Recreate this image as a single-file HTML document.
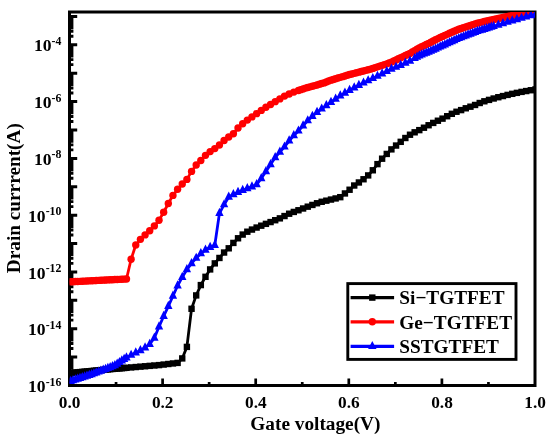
<!DOCTYPE html>
<html><head><meta charset="utf-8"><title>Transfer characteristics</title>
<style>html,body{margin:0;padding:0;background:#fff}svg{display:block}text{font-family:"Liberation Serif","Times New Roman",serif;font-weight:bold;fill:#000}</style></head><body>
<svg width="550" height="436" viewBox="0 0 550 436">
<rect width="550" height="436" fill="#fff"/>
<defs><clipPath id="plot"><rect x="69.5" y="12.0" width="465.5" height="373.5"/></clipPath></defs>
<path d="M69.5 385.5H77.2M69.5 357.11H77.2M69.5 328.72H77.2M69.5 300.33H77.2M69.5 271.94H77.2M69.5 243.55H77.2M69.5 215.16H77.2M69.5 186.77H77.2M69.5 158.38H77.2M69.5 129.99H77.2M69.5 101.6H77.2M69.5 73.21H77.2M69.5 44.82H77.2M69.5 16.43H77.2" stroke="#000" stroke-width="3" fill="none"/>
<path d="M69.5 376.95H73.4M69.5 371.95H73.4M69.5 368.41H73.4M69.5 365.66H73.4M69.5 363.41H73.4M69.5 361.51H73.4M69.5 359.86H73.4M69.5 358.41H73.4M69.5 348.56H73.4M69.5 343.56H73.4M69.5 340.02H73.4M69.5 337.27H73.4M69.5 335.02H73.4M69.5 333.12H73.4M69.5 331.47H73.4M69.5 330.02H73.4M69.5 320.17H73.4M69.5 315.17H73.4M69.5 311.63H73.4M69.5 308.88H73.4M69.5 306.63H73.4M69.5 304.73H73.4M69.5 303.08H73.4M69.5 301.63H73.4M69.5 291.78H73.4M69.5 286.78H73.4M69.5 283.24H73.4M69.5 280.49H73.4M69.5 278.24H73.4M69.5 276.34H73.4M69.5 274.69H73.4M69.5 273.24H73.4M69.5 263.39H73.4M69.5 258.39H73.4M69.5 254.85H73.4M69.5 252.1H73.4M69.5 249.85H73.4M69.5 247.95H73.4M69.5 246.3H73.4M69.5 244.85H73.4M69.5 235H73.4M69.5 230H73.4M69.5 226.46H73.4M69.5 223.71H73.4M69.5 221.46H73.4M69.5 219.56H73.4M69.5 217.91H73.4M69.5 216.46H73.4M69.5 206.61H73.4M69.5 201.61H73.4M69.5 198.07H73.4M69.5 195.32H73.4M69.5 193.07H73.4M69.5 191.17H73.4M69.5 189.52H73.4M69.5 188.07H73.4M69.5 178.22H73.4M69.5 173.22H73.4M69.5 169.68H73.4M69.5 166.93H73.4M69.5 164.68H73.4M69.5 162.78H73.4M69.5 161.13H73.4M69.5 159.68H73.4M69.5 149.83H73.4M69.5 144.83H73.4M69.5 141.29H73.4M69.5 138.54H73.4M69.5 136.29H73.4M69.5 134.39H73.4M69.5 132.74H73.4M69.5 131.29H73.4M69.5 121.44H73.4M69.5 116.44H73.4M69.5 112.9H73.4M69.5 110.15H73.4M69.5 107.9H73.4M69.5 106H73.4M69.5 104.35H73.4M69.5 102.9H73.4M69.5 93.05H73.4M69.5 88.05H73.4M69.5 84.51H73.4M69.5 81.76H73.4M69.5 79.51H73.4M69.5 77.61H73.4M69.5 75.96H73.4M69.5 74.51H73.4M69.5 64.66H73.4M69.5 59.66H73.4M69.5 56.12H73.4M69.5 53.37H73.4M69.5 51.12H73.4M69.5 49.22H73.4M69.5 47.57H73.4M69.5 46.12H73.4M69.5 36.27H73.4M69.5 31.27H73.4M69.5 27.73H73.4M69.5 24.98H73.4M69.5 22.73H73.4M69.5 20.83H73.4M69.5 19.18H73.4M69.5 17.73H73.4" stroke="#000" stroke-width="2.9" fill="none"/>
<path d="M116.05 385.5V382M162.6 385.5V378.6M209.15 385.5V382M255.7 385.5V378.6M302.25 385.5V382M348.8 385.5V378.6M395.35 385.5V382M441.9 385.5V378.6M488.45 385.5V382" stroke="#000" stroke-width="2.7" fill="none"/>
<rect x="69.5" y="12.0" width="465.5" height="373.5" fill="none" stroke="#000" stroke-width="3"/>
<g clip-path="url(#plot)">
<polyline fill="none" stroke="#000" stroke-width="2.8" stroke-linejoin="round" points="70.7,373 73.02,372.78 75.35,372.55 77.67,372.33 80,372.1 82.32,371.88 84.64,371.65 86.97,371.43 89.29,371.2 91.62,370.98 93.94,370.75 96.26,370.53 98.59,370.3 100.91,370.08 103.24,369.85 105.56,369.63 107.88,369.4 110.21,369.18 112.53,368.97 114.86,368.78 117.18,368.59 119.5,368.39 121.83,368.2 124.15,368 126.48,367.81 131.12,367.42 135.77,367.04 140.42,366.65 145.07,366.26 149.72,365.87 154.36,365.49 159.01,365.1 163.66,364.55 168.31,364 172.96,363.45 177.6,362.91 182.25,358.42 186.9,346.89 191.55,308.77 196.2,295.41 200.84,285.08 205.49,276.81 210.14,269.42 214.79,263.38 219.44,257.96 224.08,252.53 228.73,248.31 233.38,242.92 238.03,238.28 242.68,234.56 247.32,231.71 251.97,229.56 256.62,227.55 261.27,225.69 265.92,223.86 270.56,222.06 275.21,220.22 279.86,218.36 284.51,216.05 289.16,213.72 293.8,211.93 298.45,210.26 303.1,208.49 307.75,206.68 312.4,204.94 317.04,203.26 321.69,201.79 326.34,200.68 330.99,199.56 335.64,198.45 340.28,197.17 344.93,193.45 349.58,189.74 354.23,185.51 358.88,182.47 363.52,179.26 368.17,175.41 372.82,170.28 377.47,164.12 382.12,158.7 386.76,153.93 391.41,149.37 396.06,145.55 400.71,141.83 405.36,138.01 410,134.73 414.65,132.3 419.3,130.13 423.95,127.72 428.6,125.25 433.24,122.92 437.89,120.73 442.54,118.64 447.19,116.22 451.84,113.81 456.48,111.75 461.13,110.1 465.78,108.29 470.43,106.7 475.08,104.97 479.72,103 484.37,101.29 489.02,99.89 493.67,98.5 498.32,97.22 502.96,96.06 507.61,94.9 512.26,93.83 516.91,92.86 521.56,91.89 526.2,91.05 530.85,90.23 535.5,89.4"/><g fill="#000"><rect x="67.5" y="369.8" width="6.4" height="6.4"/><rect x="69.82" y="369.58" width="6.4" height="6.4"/><rect x="72.15" y="369.35" width="6.4" height="6.4"/><rect x="74.47" y="369.13" width="6.4" height="6.4"/><rect x="76.8" y="368.9" width="6.4" height="6.4"/><rect x="79.12" y="368.68" width="6.4" height="6.4"/><rect x="81.44" y="368.45" width="6.4" height="6.4"/><rect x="83.77" y="368.23" width="6.4" height="6.4"/><rect x="86.09" y="368" width="6.4" height="6.4"/><rect x="88.42" y="367.78" width="6.4" height="6.4"/><rect x="90.74" y="367.55" width="6.4" height="6.4"/><rect x="93.06" y="367.33" width="6.4" height="6.4"/><rect x="95.39" y="367.1" width="6.4" height="6.4"/><rect x="97.71" y="366.88" width="6.4" height="6.4"/><rect x="100.04" y="366.65" width="6.4" height="6.4"/><rect x="102.36" y="366.43" width="6.4" height="6.4"/><rect x="104.68" y="366.2" width="6.4" height="6.4"/><rect x="107.01" y="365.98" width="6.4" height="6.4"/><rect x="109.33" y="365.77" width="6.4" height="6.4"/><rect x="111.66" y="365.58" width="6.4" height="6.4"/><rect x="113.98" y="365.39" width="6.4" height="6.4"/><rect x="116.3" y="365.19" width="6.4" height="6.4"/><rect x="118.63" y="365" width="6.4" height="6.4"/><rect x="120.95" y="364.8" width="6.4" height="6.4"/><rect x="123.28" y="364.61" width="6.4" height="6.4"/><rect x="127.92" y="364.22" width="6.4" height="6.4"/><rect x="132.57" y="363.84" width="6.4" height="6.4"/><rect x="137.22" y="363.45" width="6.4" height="6.4"/><rect x="141.87" y="363.06" width="6.4" height="6.4"/><rect x="146.52" y="362.67" width="6.4" height="6.4"/><rect x="151.16" y="362.29" width="6.4" height="6.4"/><rect x="155.81" y="361.9" width="6.4" height="6.4"/><rect x="160.46" y="361.35" width="6.4" height="6.4"/><rect x="165.11" y="360.8" width="6.4" height="6.4"/><rect x="169.76" y="360.25" width="6.4" height="6.4"/><rect x="174.4" y="359.71" width="6.4" height="6.4"/><rect x="179.05" y="355.22" width="6.4" height="6.4"/><rect x="183.7" y="343.69" width="6.4" height="6.4"/><rect x="188.35" y="305.57" width="6.4" height="6.4"/><rect x="193" y="292.21" width="6.4" height="6.4"/><rect x="197.64" y="281.88" width="6.4" height="6.4"/><rect x="202.29" y="273.61" width="6.4" height="6.4"/><rect x="206.94" y="266.22" width="6.4" height="6.4"/><rect x="211.59" y="260.18" width="6.4" height="6.4"/><rect x="216.24" y="254.76" width="6.4" height="6.4"/><rect x="220.88" y="249.33" width="6.4" height="6.4"/><rect x="225.53" y="245.11" width="6.4" height="6.4"/><rect x="230.18" y="239.72" width="6.4" height="6.4"/><rect x="234.83" y="235.08" width="6.4" height="6.4"/><rect x="239.48" y="231.36" width="6.4" height="6.4"/><rect x="244.12" y="228.51" width="6.4" height="6.4"/><rect x="248.77" y="226.36" width="6.4" height="6.4"/><rect x="253.42" y="224.35" width="6.4" height="6.4"/><rect x="258.07" y="222.49" width="6.4" height="6.4"/><rect x="262.72" y="220.66" width="6.4" height="6.4"/><rect x="267.36" y="218.86" width="6.4" height="6.4"/><rect x="272.01" y="217.02" width="6.4" height="6.4"/><rect x="276.66" y="215.16" width="6.4" height="6.4"/><rect x="281.31" y="212.85" width="6.4" height="6.4"/><rect x="285.96" y="210.52" width="6.4" height="6.4"/><rect x="290.6" y="208.73" width="6.4" height="6.4"/><rect x="295.25" y="207.06" width="6.4" height="6.4"/><rect x="299.9" y="205.29" width="6.4" height="6.4"/><rect x="304.55" y="203.48" width="6.4" height="6.4"/><rect x="309.2" y="201.74" width="6.4" height="6.4"/><rect x="313.84" y="200.06" width="6.4" height="6.4"/><rect x="318.49" y="198.59" width="6.4" height="6.4"/><rect x="323.14" y="197.48" width="6.4" height="6.4"/><rect x="327.79" y="196.36" width="6.4" height="6.4"/><rect x="332.44" y="195.25" width="6.4" height="6.4"/><rect x="337.08" y="193.97" width="6.4" height="6.4"/><rect x="341.73" y="190.25" width="6.4" height="6.4"/><rect x="346.38" y="186.54" width="6.4" height="6.4"/><rect x="351.03" y="182.31" width="6.4" height="6.4"/><rect x="355.68" y="179.27" width="6.4" height="6.4"/><rect x="360.32" y="176.06" width="6.4" height="6.4"/><rect x="364.97" y="172.21" width="6.4" height="6.4"/><rect x="369.62" y="167.08" width="6.4" height="6.4"/><rect x="374.27" y="160.92" width="6.4" height="6.4"/><rect x="378.92" y="155.5" width="6.4" height="6.4"/><rect x="383.56" y="150.73" width="6.4" height="6.4"/><rect x="388.21" y="146.17" width="6.4" height="6.4"/><rect x="392.86" y="142.35" width="6.4" height="6.4"/><rect x="397.51" y="138.63" width="6.4" height="6.4"/><rect x="402.16" y="134.81" width="6.4" height="6.4"/><rect x="406.8" y="131.53" width="6.4" height="6.4"/><rect x="411.45" y="129.1" width="6.4" height="6.4"/><rect x="416.1" y="126.93" width="6.4" height="6.4"/><rect x="420.75" y="124.52" width="6.4" height="6.4"/><rect x="425.4" y="122.05" width="6.4" height="6.4"/><rect x="430.04" y="119.72" width="6.4" height="6.4"/><rect x="434.69" y="117.53" width="6.4" height="6.4"/><rect x="439.34" y="115.44" width="6.4" height="6.4"/><rect x="443.99" y="113.02" width="6.4" height="6.4"/><rect x="448.64" y="110.61" width="6.4" height="6.4"/><rect x="453.28" y="108.55" width="6.4" height="6.4"/><rect x="457.93" y="106.9" width="6.4" height="6.4"/><rect x="462.58" y="105.09" width="6.4" height="6.4"/><rect x="467.23" y="103.5" width="6.4" height="6.4"/><rect x="471.88" y="101.77" width="6.4" height="6.4"/><rect x="476.52" y="99.8" width="6.4" height="6.4"/><rect x="481.17" y="98.09" width="6.4" height="6.4"/><rect x="485.82" y="96.69" width="6.4" height="6.4"/><rect x="490.47" y="95.3" width="6.4" height="6.4"/><rect x="495.12" y="94.02" width="6.4" height="6.4"/><rect x="499.76" y="92.86" width="6.4" height="6.4"/><rect x="504.41" y="91.7" width="6.4" height="6.4"/><rect x="509.06" y="90.63" width="6.4" height="6.4"/><rect x="513.71" y="89.66" width="6.4" height="6.4"/><rect x="518.36" y="88.69" width="6.4" height="6.4"/><rect x="523" y="87.85" width="6.4" height="6.4"/><rect x="527.65" y="87.03" width="6.4" height="6.4"/><rect x="532.3" y="86.2" width="6.4" height="6.4"/></g>
<polyline fill="none" stroke="#f00" stroke-width="2.8" stroke-linejoin="round" points="70.7,281.8 73.02,281.68 75.35,281.56 77.67,281.45 80,281.33 82.32,281.21 84.64,281.1 86.97,280.98 89.29,280.86 91.62,280.74 93.94,280.63 96.26,280.51 98.59,280.39 100.91,280.27 103.24,280.16 105.56,280.04 107.88,279.92 110.21,279.8 112.53,279.69 114.86,279.57 117.18,279.45 119.5,279.33 121.83,279.22 124.15,279.1 126.48,278.98 131.12,259.27 135.77,245.02 140.42,239.33 145.07,234.88 149.72,230.82 154.36,225.9 159.01,220.31 163.66,212.22 168.31,203.5 172.96,195.4 177.6,189.31 182.25,184.06 186.9,179.41 191.55,171.4 196.2,164.98 200.84,160.46 205.49,155.33 210.14,151.62 214.79,148.62 219.44,145.06 224.08,140.51 228.73,137.01 233.38,133.68 238.03,127.94 242.68,123.79 247.32,120.11 251.97,116.89 256.62,113.67 261.27,110.41 265.92,107.25 270.56,104.46 275.21,101.67 279.86,98.88 284.51,96.1 289.16,94.06 293.8,92.11 298.45,90.44 300.78,89.66 303.1,88.88 305.42,88.12 307.75,87.49 310.07,86.87 312.4,86.24 314.72,85.61 317.04,84.93 319.37,84.25 321.69,83.57 324.02,82.89 326.34,82.03 328.66,81.04 330.99,80.17 333.31,79.47 335.64,78.77 337.96,78.07 340.28,77.36 342.61,76.66 344.93,75.96 347.26,75.26 349.58,74.56 351.9,73.94 354.23,73.34 356.55,72.75 358.88,72.15 361.2,71.56 363.52,70.96 365.85,70.36 368.17,69.77 370.5,69.14 372.82,68.38 375.14,67.62 377.47,66.86 379.79,66.11 382.12,65.35 384.44,64.59 386.76,63.83 389.09,63.07 391.41,62.1 393.74,60.99 396.06,59.88 398.38,58.77 400.71,57.67 403.03,56.6 405.36,55.53 407.68,54.47 410,53.4 412.33,52.02 414.65,50.64 416.98,49.26 419.3,47.88 421.62,46.69 423.95,45.59 426.27,44.48 428.6,43.38 430.92,42.23 433.24,41.02 435.57,39.82 437.89,38.61 440.22,37.42 442.54,36.39 444.86,35.36 447.19,34.33 449.51,33.29 451.84,32.26 454.16,31.23 456.48,30.2 458.81,29.23 461.13,28.46 463.46,27.69 465.78,26.92 468.1,26.15 470.43,25.38 472.75,24.62 475.08,23.85 477.4,23.15 479.72,22.62 482.05,22.09 484.37,21.57 486.7,21.04 489.02,20.51 491.34,19.98 493.67,19.45 495.99,18.94 498.32,18.46 500.64,17.97 502.96,17.49 505.29,17 507.61,16.52 509.94,16.03 512.26,15.55 514.58,15.13 516.91,14.79 519.23,14.45 521.56,14.11 523.88,13.77 526.2,13.42 528.53,13.08 530.85,12.74 533.18,12.38 535.5,12.01"/><g fill="#f00"><circle cx="70.7" cy="281.8" r="3.7"/><circle cx="73.02" cy="281.68" r="3.7"/><circle cx="75.35" cy="281.56" r="3.7"/><circle cx="77.67" cy="281.45" r="3.7"/><circle cx="80" cy="281.33" r="3.7"/><circle cx="82.32" cy="281.21" r="3.7"/><circle cx="84.64" cy="281.1" r="3.7"/><circle cx="86.97" cy="280.98" r="3.7"/><circle cx="89.29" cy="280.86" r="3.7"/><circle cx="91.62" cy="280.74" r="3.7"/><circle cx="93.94" cy="280.63" r="3.7"/><circle cx="96.26" cy="280.51" r="3.7"/><circle cx="98.59" cy="280.39" r="3.7"/><circle cx="100.91" cy="280.27" r="3.7"/><circle cx="103.24" cy="280.16" r="3.7"/><circle cx="105.56" cy="280.04" r="3.7"/><circle cx="107.88" cy="279.92" r="3.7"/><circle cx="110.21" cy="279.8" r="3.7"/><circle cx="112.53" cy="279.69" r="3.7"/><circle cx="114.86" cy="279.57" r="3.7"/><circle cx="117.18" cy="279.45" r="3.7"/><circle cx="119.5" cy="279.33" r="3.7"/><circle cx="121.83" cy="279.22" r="3.7"/><circle cx="124.15" cy="279.1" r="3.7"/><circle cx="126.48" cy="278.98" r="3.7"/><circle cx="131.12" cy="259.27" r="3.7"/><circle cx="135.77" cy="245.02" r="3.7"/><circle cx="140.42" cy="239.33" r="3.7"/><circle cx="145.07" cy="234.88" r="3.7"/><circle cx="149.72" cy="230.82" r="3.7"/><circle cx="154.36" cy="225.9" r="3.7"/><circle cx="159.01" cy="220.31" r="3.7"/><circle cx="163.66" cy="212.22" r="3.7"/><circle cx="168.31" cy="203.5" r="3.7"/><circle cx="172.96" cy="195.4" r="3.7"/><circle cx="177.6" cy="189.31" r="3.7"/><circle cx="182.25" cy="184.06" r="3.7"/><circle cx="186.9" cy="179.41" r="3.7"/><circle cx="191.55" cy="171.4" r="3.7"/><circle cx="196.2" cy="164.98" r="3.7"/><circle cx="200.84" cy="160.46" r="3.7"/><circle cx="205.49" cy="155.33" r="3.7"/><circle cx="210.14" cy="151.62" r="3.7"/><circle cx="214.79" cy="148.62" r="3.7"/><circle cx="219.44" cy="145.06" r="3.7"/><circle cx="224.08" cy="140.51" r="3.7"/><circle cx="228.73" cy="137.01" r="3.7"/><circle cx="233.38" cy="133.68" r="3.7"/><circle cx="238.03" cy="127.94" r="3.7"/><circle cx="242.68" cy="123.79" r="3.7"/><circle cx="247.32" cy="120.11" r="3.7"/><circle cx="251.97" cy="116.89" r="3.7"/><circle cx="256.62" cy="113.67" r="3.7"/><circle cx="261.27" cy="110.41" r="3.7"/><circle cx="265.92" cy="107.25" r="3.7"/><circle cx="270.56" cy="104.46" r="3.7"/><circle cx="275.21" cy="101.67" r="3.7"/><circle cx="279.86" cy="98.88" r="3.7"/><circle cx="284.51" cy="96.1" r="3.7"/><circle cx="289.16" cy="94.06" r="3.7"/><circle cx="293.8" cy="92.11" r="3.7"/><circle cx="298.45" cy="90.44" r="3.7"/><circle cx="300.78" cy="89.66" r="3.7"/><circle cx="303.1" cy="88.88" r="3.7"/><circle cx="305.42" cy="88.12" r="3.7"/><circle cx="307.75" cy="87.49" r="3.7"/><circle cx="310.07" cy="86.87" r="3.7"/><circle cx="312.4" cy="86.24" r="3.7"/><circle cx="314.72" cy="85.61" r="3.7"/><circle cx="317.04" cy="84.93" r="3.7"/><circle cx="319.37" cy="84.25" r="3.7"/><circle cx="321.69" cy="83.57" r="3.7"/><circle cx="324.02" cy="82.89" r="3.7"/><circle cx="326.34" cy="82.03" r="3.7"/><circle cx="328.66" cy="81.04" r="3.7"/><circle cx="330.99" cy="80.17" r="3.7"/><circle cx="333.31" cy="79.47" r="3.7"/><circle cx="335.64" cy="78.77" r="3.7"/><circle cx="337.96" cy="78.07" r="3.7"/><circle cx="340.28" cy="77.36" r="3.7"/><circle cx="342.61" cy="76.66" r="3.7"/><circle cx="344.93" cy="75.96" r="3.7"/><circle cx="347.26" cy="75.26" r="3.7"/><circle cx="349.58" cy="74.56" r="3.7"/><circle cx="351.9" cy="73.94" r="3.7"/><circle cx="354.23" cy="73.34" r="3.7"/><circle cx="356.55" cy="72.75" r="3.7"/><circle cx="358.88" cy="72.15" r="3.7"/><circle cx="361.2" cy="71.56" r="3.7"/><circle cx="363.52" cy="70.96" r="3.7"/><circle cx="365.85" cy="70.36" r="3.7"/><circle cx="368.17" cy="69.77" r="3.7"/><circle cx="370.5" cy="69.14" r="3.7"/><circle cx="372.82" cy="68.38" r="3.7"/><circle cx="375.14" cy="67.62" r="3.7"/><circle cx="377.47" cy="66.86" r="3.7"/><circle cx="379.79" cy="66.11" r="3.7"/><circle cx="382.12" cy="65.35" r="3.7"/><circle cx="384.44" cy="64.59" r="3.7"/><circle cx="386.76" cy="63.83" r="3.7"/><circle cx="389.09" cy="63.07" r="3.7"/><circle cx="391.41" cy="62.1" r="3.7"/><circle cx="393.74" cy="60.99" r="3.7"/><circle cx="396.06" cy="59.88" r="3.7"/><circle cx="398.38" cy="58.77" r="3.7"/><circle cx="400.71" cy="57.67" r="3.7"/><circle cx="403.03" cy="56.6" r="3.7"/><circle cx="405.36" cy="55.53" r="3.7"/><circle cx="407.68" cy="54.47" r="3.7"/><circle cx="410" cy="53.4" r="3.7"/><circle cx="412.33" cy="52.02" r="3.7"/><circle cx="414.65" cy="50.64" r="3.7"/><circle cx="416.98" cy="49.26" r="3.7"/><circle cx="419.3" cy="47.88" r="3.7"/><circle cx="421.62" cy="46.69" r="3.7"/><circle cx="423.95" cy="45.59" r="3.7"/><circle cx="426.27" cy="44.48" r="3.7"/><circle cx="428.6" cy="43.38" r="3.7"/><circle cx="430.92" cy="42.23" r="3.7"/><circle cx="433.24" cy="41.02" r="3.7"/><circle cx="435.57" cy="39.82" r="3.7"/><circle cx="437.89" cy="38.61" r="3.7"/><circle cx="440.22" cy="37.42" r="3.7"/><circle cx="442.54" cy="36.39" r="3.7"/><circle cx="444.86" cy="35.36" r="3.7"/><circle cx="447.19" cy="34.33" r="3.7"/><circle cx="449.51" cy="33.29" r="3.7"/><circle cx="451.84" cy="32.26" r="3.7"/><circle cx="454.16" cy="31.23" r="3.7"/><circle cx="456.48" cy="30.2" r="3.7"/><circle cx="458.81" cy="29.23" r="3.7"/><circle cx="461.13" cy="28.46" r="3.7"/><circle cx="463.46" cy="27.69" r="3.7"/><circle cx="465.78" cy="26.92" r="3.7"/><circle cx="468.1" cy="26.15" r="3.7"/><circle cx="470.43" cy="25.38" r="3.7"/><circle cx="472.75" cy="24.62" r="3.7"/><circle cx="475.08" cy="23.85" r="3.7"/><circle cx="477.4" cy="23.15" r="3.7"/><circle cx="479.72" cy="22.62" r="3.7"/><circle cx="482.05" cy="22.09" r="3.7"/><circle cx="484.37" cy="21.57" r="3.7"/><circle cx="486.7" cy="21.04" r="3.7"/><circle cx="489.02" cy="20.51" r="3.7"/><circle cx="491.34" cy="19.98" r="3.7"/><circle cx="493.67" cy="19.45" r="3.7"/><circle cx="495.99" cy="18.94" r="3.7"/><circle cx="498.32" cy="18.46" r="3.7"/><circle cx="500.64" cy="17.97" r="3.7"/><circle cx="502.96" cy="17.49" r="3.7"/><circle cx="505.29" cy="17" r="3.7"/><circle cx="507.61" cy="16.52" r="3.7"/><circle cx="509.94" cy="16.03" r="3.7"/><circle cx="512.26" cy="15.55" r="3.7"/><circle cx="514.58" cy="15.13" r="3.7"/><circle cx="516.91" cy="14.79" r="3.7"/><circle cx="519.23" cy="14.45" r="3.7"/><circle cx="521.56" cy="14.11" r="3.7"/><circle cx="523.88" cy="13.77" r="3.7"/><circle cx="526.2" cy="13.42" r="3.7"/><circle cx="528.53" cy="13.08" r="3.7"/><circle cx="530.85" cy="12.74" r="3.7"/><circle cx="533.18" cy="12.38" r="3.7"/><circle cx="535.5" cy="12.01" r="3.7"/></g>
<polyline fill="none" stroke="#00f" stroke-width="2.8" stroke-linejoin="round" points="70.7,381.2 73.02,380.45 75.35,379.71 77.67,378.96 80,378.22 82.32,377.47 84.64,376.72 86.97,375.98 89.29,375.23 91.62,374.48 93.94,373.65 96.26,372.76 98.59,371.88 100.91,370.99 103.24,370.1 105.56,369.21 107.88,368.33 110.21,367.44 112.53,366.55 114.86,365.56 117.18,363.99 119.5,362.42 121.83,360.85 124.15,359.34 126.48,357.84 131.12,355.13 135.77,352.71 140.42,350.44 145.07,347.7 149.72,344.22 154.36,337.93 159.01,326.82 163.66,316.22 168.31,306.33 172.96,295.95 177.6,285.72 182.25,277.2 186.9,269.61 191.55,263.45 196.2,258.13 200.84,253.59 205.49,250.01 210.14,247.28 214.79,245.27 219.44,213.3 224.08,204.66 228.73,197 233.38,194.46 238.03,192.34 242.68,190.25 247.32,188.62 251.97,186.81 256.62,184.57 261.27,178.45 265.92,171.48 270.56,164.5 275.21,157.53 279.86,151.96 284.51,146.88 289.16,140.81 293.8,135.55 298.45,130.9 303.1,125.74 307.75,120.64 312.4,116.22 317.04,112.26 321.69,108.88 326.34,105.52 330.99,102.2 335.64,99.02 340.28,95.87 344.93,93.09 349.58,90.32 354.23,87.75 358.88,85.2 363.52,82.89 368.17,80.66 372.82,78.41 377.47,76.16 382.12,73.83 386.76,71.39 391.41,69.11 396.06,67.15 400.71,65.18 405.36,63.12 410,61.06 414.65,58.41 416.98,57.08 419.3,55.75 421.62,54.73 423.95,53.83 426.27,52.94 428.6,52.04 430.92,51.08 433.24,50.02 435.57,48.96 437.89,47.89 440.22,46.83 442.54,45.77 444.86,44.71 447.19,43.66 449.51,42.6 451.84,41.54 454.16,40.48 456.48,39.42 458.81,38.4 461.13,37.52 463.46,36.63 465.78,35.74 468.1,34.85 470.43,33.97 472.75,33.08 475.08,32.19 477.4,31.36 479.72,30.65 482.05,29.94 484.37,29.23 486.7,28.53 489.02,27.82 491.34,27.11 493.67,26.41 498.32,24.99 502.96,23.58 507.61,22.17 512.26,20.76 516.91,19.43 521.56,18.13 526.2,16.83 530.85,15.53 535.5,14.57"/><g fill="#00f"><path d="M70.7 375.7l4.2 8.2h-8.4z"/><path d="M73.02 374.95l4.2 8.2h-8.4z"/><path d="M75.35 374.21l4.2 8.2h-8.4z"/><path d="M77.67 373.46l4.2 8.2h-8.4z"/><path d="M80 372.72l4.2 8.2h-8.4z"/><path d="M82.32 371.97l4.2 8.2h-8.4z"/><path d="M84.64 371.22l4.2 8.2h-8.4z"/><path d="M86.97 370.48l4.2 8.2h-8.4z"/><path d="M89.29 369.73l4.2 8.2h-8.4z"/><path d="M91.62 368.98l4.2 8.2h-8.4z"/><path d="M93.94 368.15l4.2 8.2h-8.4z"/><path d="M96.26 367.26l4.2 8.2h-8.4z"/><path d="M98.59 366.38l4.2 8.2h-8.4z"/><path d="M100.91 365.49l4.2 8.2h-8.4z"/><path d="M103.24 364.6l4.2 8.2h-8.4z"/><path d="M105.56 363.71l4.2 8.2h-8.4z"/><path d="M107.88 362.83l4.2 8.2h-8.4z"/><path d="M110.21 361.94l4.2 8.2h-8.4z"/><path d="M112.53 361.05l4.2 8.2h-8.4z"/><path d="M114.86 360.06l4.2 8.2h-8.4z"/><path d="M117.18 358.49l4.2 8.2h-8.4z"/><path d="M119.5 356.92l4.2 8.2h-8.4z"/><path d="M121.83 355.35l4.2 8.2h-8.4z"/><path d="M124.15 353.84l4.2 8.2h-8.4z"/><path d="M126.48 352.34l4.2 8.2h-8.4z"/><path d="M131.12 349.63l4.2 8.2h-8.4z"/><path d="M135.77 347.21l4.2 8.2h-8.4z"/><path d="M140.42 344.94l4.2 8.2h-8.4z"/><path d="M145.07 342.2l4.2 8.2h-8.4z"/><path d="M149.72 338.72l4.2 8.2h-8.4z"/><path d="M154.36 332.43l4.2 8.2h-8.4z"/><path d="M159.01 321.32l4.2 8.2h-8.4z"/><path d="M163.66 310.72l4.2 8.2h-8.4z"/><path d="M168.31 300.83l4.2 8.2h-8.4z"/><path d="M172.96 290.45l4.2 8.2h-8.4z"/><path d="M177.6 280.22l4.2 8.2h-8.4z"/><path d="M182.25 271.7l4.2 8.2h-8.4z"/><path d="M186.9 264.11l4.2 8.2h-8.4z"/><path d="M191.55 257.95l4.2 8.2h-8.4z"/><path d="M196.2 252.63l4.2 8.2h-8.4z"/><path d="M200.84 248.09l4.2 8.2h-8.4z"/><path d="M205.49 244.51l4.2 8.2h-8.4z"/><path d="M210.14 241.78l4.2 8.2h-8.4z"/><path d="M214.79 239.77l4.2 8.2h-8.4z"/><path d="M219.44 207.8l4.2 8.2h-8.4z"/><path d="M224.08 199.16l4.2 8.2h-8.4z"/><path d="M228.73 191.5l4.2 8.2h-8.4z"/><path d="M233.38 188.96l4.2 8.2h-8.4z"/><path d="M238.03 186.84l4.2 8.2h-8.4z"/><path d="M242.68 184.75l4.2 8.2h-8.4z"/><path d="M247.32 183.12l4.2 8.2h-8.4z"/><path d="M251.97 181.31l4.2 8.2h-8.4z"/><path d="M256.62 179.07l4.2 8.2h-8.4z"/><path d="M261.27 172.95l4.2 8.2h-8.4z"/><path d="M265.92 165.98l4.2 8.2h-8.4z"/><path d="M270.56 159l4.2 8.2h-8.4z"/><path d="M275.21 152.03l4.2 8.2h-8.4z"/><path d="M279.86 146.46l4.2 8.2h-8.4z"/><path d="M284.51 141.38l4.2 8.2h-8.4z"/><path d="M289.16 135.31l4.2 8.2h-8.4z"/><path d="M293.8 130.05l4.2 8.2h-8.4z"/><path d="M298.45 125.4l4.2 8.2h-8.4z"/><path d="M303.1 120.24l4.2 8.2h-8.4z"/><path d="M307.75 115.14l4.2 8.2h-8.4z"/><path d="M312.4 110.72l4.2 8.2h-8.4z"/><path d="M317.04 106.76l4.2 8.2h-8.4z"/><path d="M321.69 103.38l4.2 8.2h-8.4z"/><path d="M326.34 100.02l4.2 8.2h-8.4z"/><path d="M330.99 96.7l4.2 8.2h-8.4z"/><path d="M335.64 93.52l4.2 8.2h-8.4z"/><path d="M340.28 90.37l4.2 8.2h-8.4z"/><path d="M344.93 87.59l4.2 8.2h-8.4z"/><path d="M349.58 84.82l4.2 8.2h-8.4z"/><path d="M354.23 82.25l4.2 8.2h-8.4z"/><path d="M358.88 79.7l4.2 8.2h-8.4z"/><path d="M363.52 77.39l4.2 8.2h-8.4z"/><path d="M368.17 75.16l4.2 8.2h-8.4z"/><path d="M372.82 72.91l4.2 8.2h-8.4z"/><path d="M377.47 70.66l4.2 8.2h-8.4z"/><path d="M382.12 68.33l4.2 8.2h-8.4z"/><path d="M386.76 65.89l4.2 8.2h-8.4z"/><path d="M391.41 63.61l4.2 8.2h-8.4z"/><path d="M396.06 61.65l4.2 8.2h-8.4z"/><path d="M400.71 59.68l4.2 8.2h-8.4z"/><path d="M405.36 57.62l4.2 8.2h-8.4z"/><path d="M410 55.56l4.2 8.2h-8.4z"/><path d="M414.65 52.91l4.2 8.2h-8.4z"/><path d="M416.98 51.58l4.2 8.2h-8.4z"/><path d="M419.3 50.25l4.2 8.2h-8.4z"/><path d="M421.62 49.23l4.2 8.2h-8.4z"/><path d="M423.95 48.33l4.2 8.2h-8.4z"/><path d="M426.27 47.44l4.2 8.2h-8.4z"/><path d="M428.6 46.54l4.2 8.2h-8.4z"/><path d="M430.92 45.58l4.2 8.2h-8.4z"/><path d="M433.24 44.52l4.2 8.2h-8.4z"/><path d="M435.57 43.46l4.2 8.2h-8.4z"/><path d="M437.89 42.39l4.2 8.2h-8.4z"/><path d="M440.22 41.33l4.2 8.2h-8.4z"/><path d="M442.54 40.27l4.2 8.2h-8.4z"/><path d="M444.86 39.21l4.2 8.2h-8.4z"/><path d="M447.19 38.16l4.2 8.2h-8.4z"/><path d="M449.51 37.1l4.2 8.2h-8.4z"/><path d="M451.84 36.04l4.2 8.2h-8.4z"/><path d="M454.16 34.98l4.2 8.2h-8.4z"/><path d="M456.48 33.92l4.2 8.2h-8.4z"/><path d="M458.81 32.9l4.2 8.2h-8.4z"/><path d="M461.13 32.02l4.2 8.2h-8.4z"/><path d="M463.46 31.13l4.2 8.2h-8.4z"/><path d="M465.78 30.24l4.2 8.2h-8.4z"/><path d="M468.1 29.35l4.2 8.2h-8.4z"/><path d="M470.43 28.47l4.2 8.2h-8.4z"/><path d="M472.75 27.58l4.2 8.2h-8.4z"/><path d="M475.08 26.69l4.2 8.2h-8.4z"/><path d="M477.4 25.86l4.2 8.2h-8.4z"/><path d="M479.72 25.15l4.2 8.2h-8.4z"/><path d="M482.05 24.44l4.2 8.2h-8.4z"/><path d="M484.37 23.73l4.2 8.2h-8.4z"/><path d="M486.7 23.03l4.2 8.2h-8.4z"/><path d="M489.02 22.32l4.2 8.2h-8.4z"/><path d="M491.34 21.61l4.2 8.2h-8.4z"/><path d="M493.67 20.91l4.2 8.2h-8.4z"/><path d="M498.32 19.49l4.2 8.2h-8.4z"/><path d="M502.96 18.08l4.2 8.2h-8.4z"/><path d="M507.61 16.67l4.2 8.2h-8.4z"/><path d="M512.26 15.26l4.2 8.2h-8.4z"/><path d="M516.91 13.93l4.2 8.2h-8.4z"/><path d="M521.56 12.63l4.2 8.2h-8.4z"/><path d="M526.2 11.33l4.2 8.2h-8.4z"/><path d="M530.85 10.03l4.2 8.2h-8.4z"/><path d="M535.5 9.07l4.2 8.2h-8.4z"/></g>
</g>
<text x="69.6" y="408" font-size="17.3" text-anchor="middle">0.0</text>
<text x="162.7" y="408" font-size="17.3" text-anchor="middle">0.2</text>
<text x="255.8" y="408" font-size="17.3" text-anchor="middle">0.4</text>
<text x="348.9" y="408" font-size="17.3" text-anchor="middle">0.6</text>
<text x="442" y="408" font-size="17.3" text-anchor="middle">0.8</text>
<text x="535.1" y="408" font-size="17.3" text-anchor="middle">1.0</text>
<text x="61.4" y="392.1" font-size="17.6" text-anchor="end">10<tspan font-size="11.8" dy="-6.6">-16</tspan></text>
<text x="61.4" y="335.32" font-size="17.6" text-anchor="end">10<tspan font-size="11.8" dy="-6.6">-14</tspan></text>
<text x="61.4" y="278.54" font-size="17.6" text-anchor="end">10<tspan font-size="11.8" dy="-6.6">-12</tspan></text>
<text x="61.4" y="221.76" font-size="17.6" text-anchor="end">10<tspan font-size="11.8" dy="-6.6">-10</tspan></text>
<text x="61.4" y="164.98" font-size="17.6" text-anchor="end">10<tspan font-size="11.8" dy="-6.6">-8</tspan></text>
<text x="61.4" y="108.2" font-size="17.6" text-anchor="end">10<tspan font-size="11.8" dy="-6.6">-6</tspan></text>
<text x="61.4" y="51.42" font-size="17.6" text-anchor="end">10<tspan font-size="11.8" dy="-6.6">-4</tspan></text>
<text x="315.4" y="430.3" font-size="19.3" text-anchor="middle">Gate voltage(V)</text>
<text transform="translate(20.1 198.2) rotate(-90)" font-size="19.3" text-anchor="middle">Drain currrent(A)</text>
<rect x="347.8" y="283.6" width="168.2" height="75.8" fill="#fff" stroke="#000" stroke-width="2.9"/>
<path d="M350.6 297.6H394.1" stroke="#000" stroke-width="3.2"/>
<rect x="369.1" y="294.4" width="6.4" height="6.4"/>
<text x="399.3" y="304.3" font-size="19.3">Si−TGTFET</text>
<path d="M350.6 321.8H394.1" stroke="#f00" stroke-width="3.2"/>
<circle cx="372.3" cy="321.8" r="3.7" fill="#f00"/>
<text x="399.3" y="328.5" font-size="19.3">Ge−TGTFET</text>
<path d="M350.6 346.4H394.1" stroke="#00f" stroke-width="3.2"/>
<path d="M372.3 340.9l4.2 8.2h-8.4z" fill="#00f"/>
<text x="399.3" y="353.1" font-size="19.3">SSTGTFET</text>
</svg></body></html>
